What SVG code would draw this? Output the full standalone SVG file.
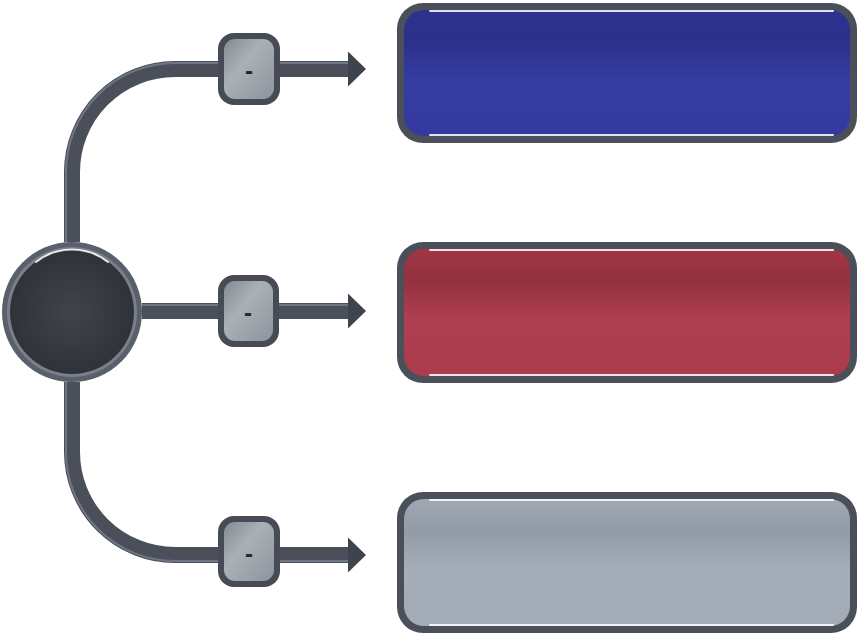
<svg xmlns="http://www.w3.org/2000/svg" width="859" height="636" viewBox="0 0 859 636">
<style>
.pipe{fill:none;stroke:#4a4f5a;stroke-width:16;}
.pipehi{fill:none;stroke:#6f7683;stroke-width:2;}
.frame{fill:#4a4f5a;}
.sqframe{fill:#474b55;}
.sqin{fill:url(#gSq);}
.hl{fill:none;stroke:#ffffff;stroke-width:2;stroke-linecap:round;opacity:0.85;}
.lbl{font-family:"Liberation Sans",Arial,sans-serif;font-weight:bold;font-size:24px;fill:#23262c;text-anchor:middle;}
</style>
<defs>
<linearGradient id="gBlue" x1="0" y1="0" x2="0" y2="1">
<stop offset="0" stop-color="#2d3290"/><stop offset="0.25" stop-color="#2b308a"/><stop offset="0.55" stop-color="#363da2"/><stop offset="1" stop-color="#343aa0"/>
</linearGradient>
<linearGradient id="gRed" x1="0" y1="0" x2="0" y2="1">
<stop offset="0" stop-color="#a03545"/><stop offset="0.25" stop-color="#943140"/><stop offset="0.55" stop-color="#ae3f51"/><stop offset="1" stop-color="#aa3c4e"/>
</linearGradient>
<linearGradient id="gGray" x1="0" y1="0" x2="0" y2="1">
<stop offset="0" stop-color="#a0a8b3"/><stop offset="0.25" stop-color="#939ba6"/><stop offset="0.55" stop-color="#a5adb8"/><stop offset="1" stop-color="#a3abb6"/>
</linearGradient>
<linearGradient id="gSq" x1="0" y1="0" x2="1" y2="1">
<stop offset="0" stop-color="#848b93"/><stop offset="0.4" stop-color="#a9b0b6"/><stop offset="1" stop-color="#8d949c"/>
</linearGradient>
<radialGradient id="gCirc" cx="0.5" cy="0.5" r="0.6">
<stop offset="0" stop-color="#40444b"/><stop offset="1" stop-color="#2c2f35"/>
</radialGradient>
<marker id="ah" markerUnits="userSpaceOnUse" markerWidth="20" markerHeight="36" refX="0" refY="17.5" orient="auto">
<path d="M0,0 L18,17.5 L0,35 Z" fill="#3f434d"/>
</marker>
</defs>

<g id="connectors">
<path class="pipe" d="M72,242 V172 A103,103 0 0 1 175,69 H348" marker-end="url(#ah)"/>
<path class="pipe" d="M142,311 H348" marker-end="url(#ah)"/>
<path class="pipe" d="M72,382 V452 A103,103 0 0 0 175,555 H348" marker-end="url(#ah)"/>
<path class="pipehi" d="M66,242 V172 A109,109 0 0 1 175,63 H348"/>
<path class="pipehi" d="M142,305 H348"/>
<path class="pipehi" d="M66,382 V452 A109,109 0 0 0 175,561 H348"/>
</g>

<g id="hub">
<circle cx="72" cy="312" r="70" fill="#5a606b"/>
<circle cx="72" cy="312" r="65" fill="#7a808b"/>
<circle cx="72" cy="312" r="62" fill="url(#gCirc)"/>
<path d="M36,262 A58,58 0 0 1 108,262" class="hl" opacity="0.55"/>
</g>

<g id="node-1-connector">
<rect class="sqframe" x="218" y="33" width="62" height="72" rx="16"/>
<rect class="sqin" x="224" y="39" width="50" height="60" rx="11"/>
<text class="lbl" x="249" y="79">-</text>
</g>
<g id="node-2-connector">
<rect class="sqframe" x="218" y="275" width="61" height="72" rx="16"/>
<rect class="sqin" x="224" y="281" width="49" height="60" rx="11"/>
<text class="lbl" x="248" y="321">-</text>
</g>
<g id="node-3-connector">
<rect class="sqframe" x="218" y="516" width="62" height="71" rx="16"/>
<rect class="sqin" x="224" y="522" width="50" height="59" rx="11"/>
<text class="lbl" x="249" y="562">-</text>
</g>

<g id="box-blue">
<rect class="frame" x="397" y="3" width="460" height="140" rx="26"/>
<rect x="404" y="10" width="446" height="126" rx="20" fill="url(#gBlue)"/>
<path class="hl" d="M430,11 H833"/>
<path class="hl" d="M430,135 H833" opacity="0.4"/>
</g>
<g id="box-red">
<rect class="frame" x="397" y="242" width="460" height="141" rx="26"/>
<rect x="404" y="249" width="446" height="127" rx="20" fill="url(#gRed)"/>
<path class="hl" d="M430,250 H833"/>
<path class="hl" d="M430,375 H833" opacity="0.4"/>
</g>
<g id="box-gray">
<rect class="frame" x="397" y="492" width="460" height="141" rx="26"/>
<rect x="404" y="499" width="446" height="127" rx="20" fill="url(#gGray)"/>
<path class="hl" d="M430,500 H833"/>
<path class="hl" d="M430,625 H833" opacity="0.4"/>
</g>
</svg>
